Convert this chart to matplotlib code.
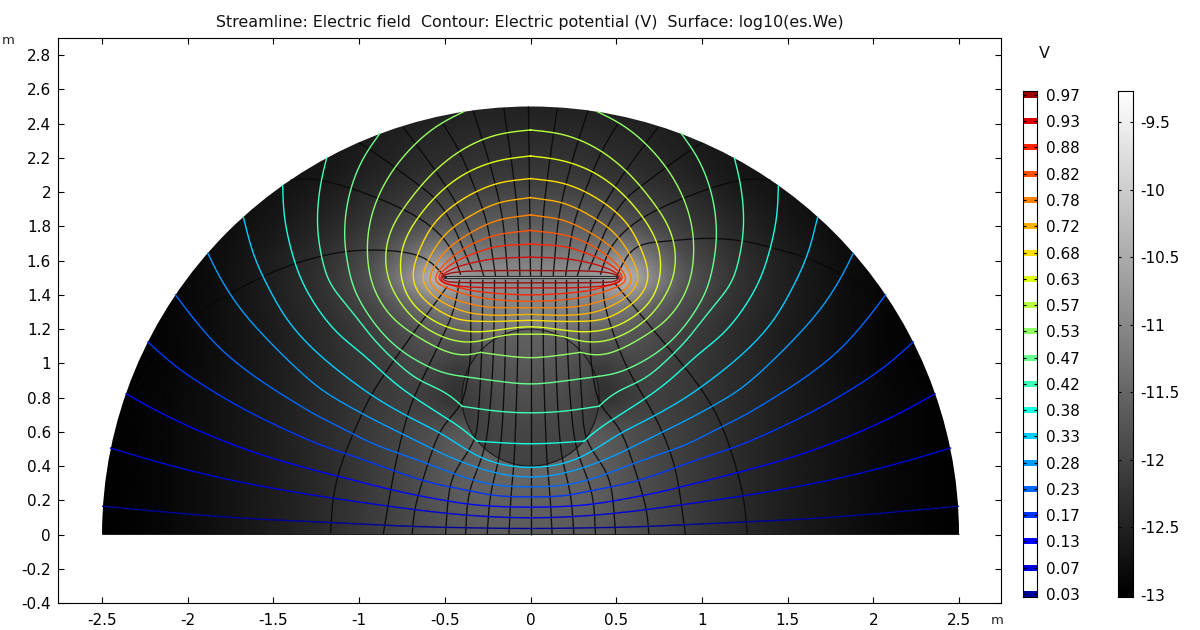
import numpy as np
import matplotlib
matplotlib.use("Agg")
import matplotlib.pyplot as plt
from matplotlib.patches import Circle, Wedge

plt.rcParams['font.family'] = ['DejaVu Sans']
plt.rcParams['axes.unicode_minus'] = False

TITLE = "Streamline: Electric field  Contour: Electric potential (V)  Surface: log10(es.We)"
level_labels = ["0.03","0.07","0.13","0.17","0.23","0.28","0.33","0.38","0.42","0.47",
                "0.53","0.57","0.63","0.68","0.72","0.78","0.82","0.88","0.93","0.97"]
surf_ticks = [-13,-12.5,-12,-11.5,-11,-10.5,-10,-9.5]
x_ticks = [-2.5,-2,-1.5,-1,-0.5,0,0.5,1,1.5,2,2.5]
y_ticks = [-0.4,-0.2,0,0.2,0.4,0.6,0.8,1,1.2,1.4,1.6,1.8,2,2.2,2.4,2.6,2.8]
LOG_MIN, LOG_MAX = -13.0, -9.27

# surface value, as a fraction of the colour range, read at grid nodes (right half, mirrored)
grid_x = [0,.2,.35,.45,.55,.7,.9,1.2,1.5,1.8,2.1,2.5]
grid_y = [0,.2,.4,.6,.8,1.0,1.2,1.35,1.45,1.5,1.6,1.8,2.1,2.5]
surface_frac = [
 [.36,.36,.35,.34,.32,.29,.24,.17,.115,.07,.03,0],
 [.38,.38,.37,.35,.33,.29,.24,.17,.115,.07,.03,0],
 [.41,.40,.38,.36,.33,.29,.24,.17,.115,.07,.03,0],
 [.36,.36,.36,.35,.32,.28,.24,.17,.115,.07,.03,0],
 [.30,.28,.20,.17,.22,.25,.23,.17,.115,.07,.03,0],
 [.34,.32,.23,.24,.27,.27,.23,.17,.11,.06,.02,0],
 [.52,.46,.40,.38,.36,.31,.25,.17,.11,.06,.02,0],
 [.52,.52,.52,.52,.50,.40,.29,.19,.12,.06,.02,0],
 [.55,.56,.58,.62,.70,.52,.33,.20,.12,.06,.02,0],
 [.55,.57,.60,.66,.80,.58,.34,.20,.12,.06,.02,0],
 [.50,.50,.52,.56,.60,.47,.31,.19,.12,.06,.02,0],
 [.37,.37,.36,.34,.33,.29,.23,.15,.09,.05,.01,0],
 [.22,.22,.21,.20,.19,.17,.14,.09,.06,.03,0,0],
 [.13,.13,.13,.12,.12,.11,.09,.07,.04,.02,0,0]]
ball_x = [0,.2,.4]
ball_y = [.4,.6,.8,1.0,1.2]
ball_frac = [[.26,.26,.25],[.27,.27,.24],[.31,.29,.23],[.35,.33,.27],[.39,.37,.31]]

# potential contours, right half, from the top (or outer rim) round to the axis underneath
c97 = [(0,1.542),(.3,1.54),(.45,1.53),(.521,1.505),(.5,1.48),(.4,1.472),(0,1.47)]
c93 = [(0,1.62),(.195,1.612),(.35,1.585),(.467,1.546),(.529,1.50),(.5,1.465),(.3,1.443),(0,1.441)]
c88 = [(0,1.696),(.195,1.682),(.35,1.634),(.467,1.575),(.541,1.497),(.467,1.459),(.311,1.42),(0,1.40)]
c82 = [(0,1.776),(.195,1.75),(.35,1.692),(.486,1.595),(.558,1.49),(.486,1.439),(.33,1.391),(.195,1.371),(0,1.362)]
c78 = [(0,1.867),(.195,1.834),(.37,1.75),(.506,1.643),(.589,1.49),(.525,1.41),(.408,1.362),(.253,1.329),(0,1.325)]
c72 = [(0,1.968),(.195,1.935),(.389,1.838),(.525,1.721),(.632,1.50),(.574,1.40),(.467,1.332),(.35,1.293),(.195,1.28),(0,1.286)]
c68 = [(0,2.079),(.195,2.052),(.389,1.964),(.564,1.818),(.671,1.604),(.69,1.488),(.642,1.391),(.545,1.313),(.428,1.255),(.292,1.245),(.146,1.245),(0,1.252)]
c63 = [(0,2.211),(.195,2.184),(.389,2.106),(.545,1.984),(.681,1.818),(.749,1.682),(.762,1.565),(.755,1.488),(.71,1.371),(.622,1.284),(.506,1.216),(.37,1.183),(.233,1.187),(.117,1.206),(0,1.216)]
c57 = [(0,2.363),(.195,2.338),(.389,2.256),(.564,2.12),(.72,1.935),(.817,1.78),(.85,1.624),(.832,1.488),(.797,1.41),(.70,1.274),(.583,1.186),(.467,1.134),(.35,1.118),(.233,1.142),(.146,1.173),(0,1.167)]
c53 = [(.389,2.47),(.525,2.402),(.661,2.295),(.797,2.139),(.895,1.964),(.947,1.78),(.953,1.624),(.934,1.488),(.875,1.352),(.778,1.235),(.661,1.157),(.545,1.089),(.428,1.045),(.35,1.041),(.292,1.064),(.195,1.05),(0,1.031)]
c47 = [(.879,2.343),(.973,2.207),(1.04,2.052),(1.079,1.877),(1.085,1.702),(1.06,1.546),(1.031,1.43),(.914,1.235),(.778,1.09),(.622,.992),(.486,.934),(.399,.924),(.253,.904),(0,.878)]
c42 = [(1.19,2.198),(1.225,2.052),(1.245,1.857),(1.235,1.702),(1.206,1.565),(1.176,1.469),(1.05,1.313),(.914,1.138),(.778,1.002),(.661,.904),(.545,.856),(.457,.807),(.399,.749),(.195,.72),(0,.71)]
c38 = [(1.446,2.036),(1.44,1.876),(1.407,1.701),(1.339,1.487),(1.225,1.293),(1.109,1.157),(.973,1.05),(.817,.904),(.661,.788),(.506,.69),(.389,.613),(.311,.545),(.156,.535),(0,.529)]
c33 = [(1.675,1.853),(1.62,1.643),(1.533,1.449),(1.407,1.235),(1.222,1.04),(.924,.811),(.681,.671),(.525,.593),(.311,.457),(.195,.414),(.097,.395),(0,.39)]
c28 = [(1.883,1.643),(1.805,1.487),(1.689,1.312),(1.553,1.157),(1.378,.982),(1.222,.846),(1.06,.749),(.924,.675),(.681,.555),(.467,.45),(.272,.378),(.136,.345),(0,.333)]
c23 = [(2.072,1.40),(1.961,1.254),(1.805,1.079),(1.611,.923),(1.417,.797),(1.222,.68),(1.118,.632),(.934,.535),(.778,.477),(.584,.409),(.408,.34),(.233,.292),(.097,.278),(0,.28)]
c17 = [(2.233,1.124),(2.058,.972),(1.805,.807),(1.572,.68),(1.222,.521),(.973,.438),(.817,.379),(.584,.302),(.389,.263),(.195,.224),(0,.22)]
c13 = [(2.36,.822),(2.156,.709),(1.883,.583),(1.572,.466),(1.222,.365),(.973,.302),(.778,.253),(.584,.214),(.35,.175),(.117,.16),(0,.16)]
c07 = [(2.451,.505),(2.156,.418),(1.805,.33),(1.514,.272),(1.222,.223),(.681,.146),(.35,.111),(0,.097)]
c03 = [(2.496,.165),(2.0,.12),(1.611,.091),(1.222,.073),(.681,.047),(.35,.039),(0,.035)]
contours = [c03,c07,c13,c17,c23,c28,c33,c38,c42,c47,c53,c57,c63,c68,c72,c78,c82,c88,c93,c97]
# point index on each contour where it breaks at the surface of the ball
ball_break = {7: 11, 8: 12, 9: 11, 10: 14}

# field lines, right half, mirrored
s_low1 = [(.074,1.488),(.074,1.177),(.078,.904),(.088,.613),(.097,.409),(.113,.243),(.126,0)]
s_low2 = [(.146,1.488),(.146,1.177),(.152,.904),(.165,.632),(.185,.438),(.233,.243),(.253,0)]
s_low3 = [(.21,1.488),(.214,1.157),(.224,.904),(.243,.671),(.268,.496),(.36,.243),(.379,0)]
s_low4 = [(.278,1.488),(.282,1.157),(.292,.904),(.307,.671),(.321,.554),(.457,.34),(.486,.146),(.496,0)]
s_low5 = [(.35,1.488),(.35,1.021),(.37,.904),(.399,.759),(.515,.632),(.622,.34),(.681,.126),(.69,0)]
s_up1 = [(.062,1.507),(.074,1.857),(.107,2.149),(.156,2.49)]
s_up2 = [(.132,1.507),(.165,1.857),(.233,2.149),(.335,2.476)]
s_up3 = [(.204,1.507),(.253,1.818),(.321,2.013),(.418,2.246),(.51,2.398)]
s_up4 = [(.272,1.507),(.36,1.789),(.486,2.023),(.622,2.217),(.743,2.378)]
s_up5 = [(.34,1.546),(.399,1.682),(.428,1.76),(.545,1.955),(.681,2.061),(.836,2.178),(1.0,2.289)]
s_up6 = [(.408,1.517),(.467,1.682),(.603,1.818),(.778,1.916),(1.05,2.023),(1.284,2.081),(1.40,2.07)]
both_sides = [s_low1,s_low2,s_low3,s_low4,s_low5,s_up1,s_up2,s_up3,s_up4,s_up5,s_up6]
right_only = [
 [(.424,1.488),(.424,1.371),(.525,1.06),(.584,.934),(.671,.788),(.768,.603),(.846,.379),(.904,0)],
 [(.49,1.47),(.739,1.167),(.856,1.031),(.992,.856),(1.06,.749),(1.118,.632),(1.186,.438),(1.245,.204),(1.264,0)],
 [(.5,1.505),(.603,1.682),(.778,1.711),(1.05,1.731),(1.284,1.708),(1.417,1.672),(1.601,1.62),(1.825,1.517),(2.039,1.38)],
]
left_only = [
 [(-.414,1.488),(-.45,1.30),(-.56,1.06),(-.62,.93),(-.69,.78),(-.74,.62),(-.79,.40),(-.86,0)],
 [(-.486,1.448),(-.642,1.234),(-.808,1.001),(-.924,.826),(-.982,.709),(-1.089,.456),(-1.148,.242),(-1.167,.009)],
 [(-.5,1.505),(-.603,1.614),(-.759,1.653),(-.972,1.662),(-1.148,1.643),(-1.423,1.566),(-1.676,1.449),(-1.967,1.274),(-2.142,1.079),(-2.34,.80)],
]
centre_low = [(0,1.49),(0,0)]
centre_up = [(0,1.51),(-.012,2.5)]


def spline(pts, n=14):
    p = np.asarray(pts, float)
    if len(p) < 3:
        return p
    d = np.r_[0, np.cumsum(np.hypot(*np.diff(p, axis=0).T))]
    m = np.zeros_like(p)
    m[1:-1] = ((p[2:]-p[:-2]).T/(d[2:]-d[:-2])).T
    m[0] = (p[1]-p[0])/(d[1]-d[0])
    m[-1] = (p[-1]-p[-2])/(d[-1]-d[-2])
    out = []
    for i in range(len(p)-1):
        h = d[i+1]-d[i]
        t = np.linspace(0, 1, n, endpoint=False)[:, None]
        out.append((2*t**3-3*t**2+1)*p[i]+(t**3-2*t**2+t)*h*m[i]
                   +(-2*t**3+3*t**2)*p[i+1]+(t**3-t**2)*h*m[i+1])
    out.append(p[-1:])
    return np.vstack(out)


def fair(pts, width):
    """Spline through the read points, then even out reading errors along the curve."""
    c = spline(pts)
    s = np.r_[0, np.cumsum(np.hypot(*np.diff(c, axis=0).T))]
    if s[-1] < 1e-6:
        return c
    step = .004
    u = np.arange(0, s[-1]+step, step)
    u[-1] = s[-1]
    c = np.c_[np.interp(u, s, c[:, 0]), np.interp(u, s, c[:, 1])]
    k = min(int(width/step) | 1, (len(c)//2-1) | 1)
    if k < 3:
        return c
    pad = k+2
    pad = min(pad, len(c)-1)
    head = 2*c[0]-c[1:pad+1][::-1]
    tail = 2*c[-1]-c[-pad-1:-1][::-1]
    e = np.vstack([head, c, tail])
    w = np.ones(k)/k
    for _ in range(2):
        e = np.c_[np.convolve(e[:, 0], w, 'same'), np.convolve(e[:, 1], w, 'same')]
    return e[pad:-pad]


def mirror_x(p):
    q = np.asarray(p, float).copy()
    q[:, 0] *= -1
    return q


def upsample(gx, gy, z, xs, ys):
    z = np.asarray(z, float)
    a = np.array([np.interp(xs, gx, row) for row in z])
    return np.array([np.interp(ys, gy, col) for col in a.T]).T


def blur(a, k, passes=2):
    w = np.ones(k)/k
    f = lambda r: np.convolve(np.pad(r, k, mode='edge'), w, 'same')[k:-k]
    for _ in range(passes):
        a = np.apply_along_axis(f, 1, a)
        a = np.apply_along_axis(f, 0, a)
    return a


W, H = 1200, 630
fig = plt.figure(figsize=(W/100, H/100), dpi=100)
def axes_px(l, t, r, b):
    return fig.add_axes([l/W, 1-b/H, (r-l)/W, (b-t)/H])

ax = axes_px(58, 38, 1001, 603)

# surface
xs = np.linspace(0, 2.5, 430)
ys = np.linspace(0, 2.5, 430)
zf = blur(upsample(grid_x, grid_y, surface_frac, xs, ys), 17)
z = LOG_MIN + zf*(LOG_MAX-LOG_MIN)
z_full = np.hstack([z[:, ::-1][:, :-1], z])
im = ax.imshow(z_full, extent=(-2.5, 2.5, 0, 2.5), origin='lower', cmap='gray',
               vmin=LOG_MIN, vmax=LOG_MAX, aspect='auto', interpolation='bilinear', zorder=1)
im.set_clip_path(Wedge((0, 0), 2.5, 0, 180, transform=ax.transData))

bx = np.linspace(0, .4, 70)
by = np.linspace(.4, 1.2, 140)
zb = blur(upsample(ball_x, ball_y, ball_frac, bx, by), 5)
zb = LOG_MIN + zb*(LOG_MAX-LOG_MIN)
zb_full = np.hstack([zb[:, ::-1][:, :-1], zb])
imb = ax.imshow(zb_full, extent=(-.4, .4, .4, 1.2), origin='lower', cmap='gray',
                vmin=LOG_MIN, vmax=LOG_MAX, aspect='auto', interpolation='bilinear', zorder=2)
imb.set_clip_path(Circle((0, .8), .4, transform=ax.transData))
ax.set_xlim(-2.757, 2.745)
ax.set_ylim(-0.397, 2.9)

# field lines
STREAM = dict(color='#080808', lw=0.95, alpha=.9, zorder=3, solid_capstyle='butt')
for s in both_sides:
    p = fair(s, .15)
    ax.plot(p[:, 0], p[:, 1], **STREAM)
    ax.plot(-p[:, 0], p[:, 1], **STREAM)
for s in right_only + left_only + [centre_low, centre_up]:
    p = fair(s, .15)
    ax.plot(p[:, 0], p[:, 1], **STREAM)
ax.add_patch(Circle((0, .8), .4, fill=False, ec='#111111', lw=0.8, alpha=.85, zorder=3))

# contours
level_pos = np.linspace(.03, .97, 20)
for i, (c, lev) in enumerate(zip(contours, level_pos)):
    c = list(c)
    full = c + [(-a, b) for a, b in c[::-1][1:]]
    L = np.hypot(*np.diff(np.asarray(full), axis=0).T).sum()
    width = .035*L if lev < .7 else (.08 if lev < .75 else .04)
    color = plt.cm.jet(lev)
    style = dict(color=color, lw=1.0, zorder=4, alpha=.9 if lev > .9 else 1)
    if i in ball_break:
        j = ball_break[i]
        outer = fair(c[:j+1], width)
        inner_right = c[j:]
        inner = fair(inner_right + [(-a, b) for a, b in inner_right[::-1][1:]], .12)
        for p in (outer, mirror_x(outer), inner):
            ax.plot(p[:, 0], p[:, 1], **style)
    else:
        p = fair(full, width)
        ax.plot(p[:, 0], p[:, 1], **style)

# plate
ax.plot([-.5, .5], [1.503, 1.503], color='#2a2a2a', lw=2.3, zorder=5, solid_capstyle='round')
ax.plot([-.49, .49], [1.503, 1.503], color='#a0a0a0', lw=0.8, zorder=6)
ax.plot([-2.5, 2.5], [.004, .004], color='#1c1c1c', lw=0.7, zorder=5, solid_capstyle='butt')

ax.set_xticks(x_ticks)
ax.set_xticklabels(["%g" % v for v in x_ticks])
ax.set_yticks(y_ticks)
ax.set_yticklabels(["%g" % v for v in y_ticks])
ax.tick_params(direction='in', length=4.5, width=0.8, top=True, right=True,
               labelsize=11, pad=5, color='black')
ax.tick_params(axis='x', pad=7)
for sp in ax.spines.values():
    sp.set_linewidth(0.8)
fig.text(530/W, 1-23/H, TITLE, ha='center', va='center', fontsize=11.4, color='#111111')
fig.text(8/W, 1-40/H, "m", ha='center', va='center', fontsize=9.5, color='#222222')
fig.text(997/W, 1-621/H, "m", ha='center', va='center', fontsize=9.5, color='#222222')
fig.text(1044/W, 1-54/H, "V", ha='center', va='center', fontsize=11.5, color='#111111')

# potential level bar
cb = axes_px(1023, 91, 1037, 597)
cb.barh(range(20), 1, height=.23, color=plt.cm.jet(level_pos))
cb.set_xlim(0, 1)
cb.set_ylim(-0.114, 19.15)
cb.set_xticks([])
cb.set_yticks(range(20))
cb.set_yticklabels(level_labels)
cb.tick_params(axis='y', direction='in', length=2.2, width=0.8, left=True, right=True,
               labelleft=False, labelright=True, labelsize=11, pad=6.5)
for sp in cb.spines.values():
    sp.set_linewidth(0.8)

# surface bar
BAR_LOW = -13.015
sb = axes_px(1118, 91, 1133, 597)
grad = np.linspace(BAR_LOW, LOG_MAX, 256)[:, None]
sb.imshow(grad, extent=(0, 1, BAR_LOW, LOG_MAX), origin='lower', aspect='auto', cmap='gray',
          vmin=LOG_MIN, vmax=LOG_MAX)
sb.set_xlim(0, 1)
sb.set_ylim(BAR_LOW, LOG_MAX)
sb.set_xticks([])
sb.set_yticks(surf_ticks)
sb.set_yticklabels(["%g" % v for v in surf_ticks])
sb.tick_params(axis='y', direction='in', length=2.2, width=0.8, left=True, right=True,
               labelleft=False, labelright=True, labelsize=11, pad=5.5)
for sp in sb.spines.values():
    sp.set_linewidth(0.8)

fig.savefig("out.png", dpi=100)
